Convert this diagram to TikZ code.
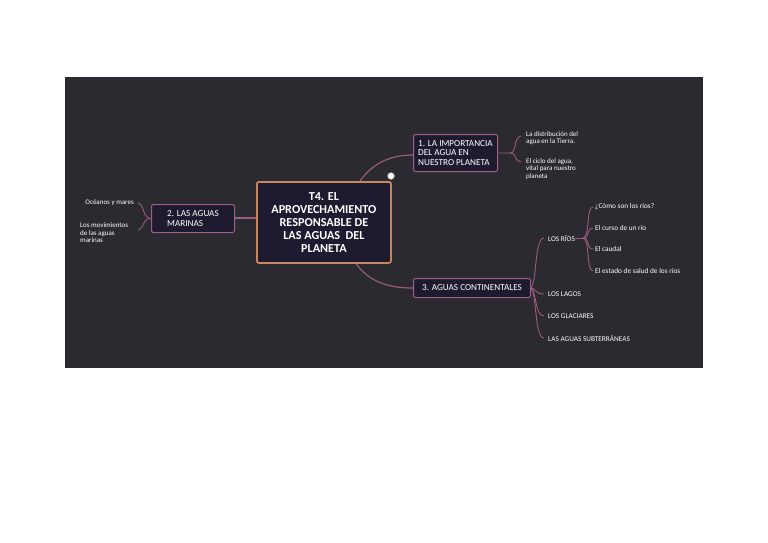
\documentclass[tikz,border=0pt]{standalone}
\usepackage{fontspec}
\setmainfont{Carlito}
\begin{document}
\begin{tikzpicture}[x=1pt,y=-1pt,
  con/.style={draw=conc,line width=1.2pt},
  sub/.style={draw=subb,fill=boxf,line width=1pt,rounded corners=1.5pt,text=white,font=\fontsize{9.2}{9.5}\selectfont,align=left,inner sep=3.5pt,anchor=north west},
  leaf/.style={text=white,font=\fontsize{7}{7.5}\selectfont,align=left,inner sep=0pt,anchor=west},
  leafb/.style={text=white,font=\fontsize{7.3}{8}\selectfont,inner sep=0pt,anchor=west}]
\definecolor{bg}{HTML}{2B2A30}
\definecolor{boxf}{HTML}{1E1A30}
\definecolor{subb}{HTML}{A0607F}
\definecolor{conc}{HTML}{9C5A7C}
\definecolor{cen}{HTML}{C8875A}
\useasboundingbox (0,0) rectangle (768,543);
\fill[white] (0,0) rectangle (768,543);
\fill[bg] (65,77) rectangle (703,368);
% connectors
\coordinate (c1) at (360,181);
\coordinate (c3) at (355,262);
\draw[con] (c1) .. controls (375,160) and (395,155) .. (413,155);
\draw[con] (c3) .. controls (370,285) and (395,288) .. (413,288);
\draw[con] (234,218) -- (256,218);
% central
\node[draw=cen,fill=boxf,line width=1.8pt,rounded corners=2pt,minimum width=134pt,minimum height=81pt,anchor=north west,text=white,align=center,font=\bfseries\fontsize{12.2}{13}\selectfont] (ctr) at (256,181) {T4. EL\\APROVECHAMIENTO\\RESPONSABLE DE\\LAS AGUAS\ \ DEL\\PLANETA};
\draw[fill=white,draw=gray] (391,176) circle (3.5);
\node[sub,minimum width=84pt,minimum height=37pt] (b1) at (413,134) {1. LA IMPORTANCIA\\DEL AGUA EN\\NUESTRO PLANETA};
\node[sub,minimum width=83pt,minimum height=28pt] (b2) at (151,204) {2. LAS AGUAS\\MARINAS};
\node[sub,minimum width=117pt,minimum height=19pt] (b3) at (413,278) {3. AGUAS CONTINENTALES};
% box1 leaves
\node[leaf] (l11) at (526,138) {La distribución del\\agua en la Tierra.};
\node[leaf] (l12) at (526,169) {El ciclo del agua,\\vital para nuestro\\planeta};
\draw[con,line width=0.9pt] (b1.east) -- (510,153) .. controls (517,153) and (513,138) .. (521,136);
\draw[con,line width=0.9pt] (510,153) .. controls (517,153) and (513,160) .. (521,162);
% box2 leaves
\node[leaf,anchor=east] (l21) at (134,203) {Océanos y mares};
\node[leaf] (l22) at (80,233) {Los movimientos\\de las aguas\\marinas};
\draw[con,line width=0.9pt] (b2.west) .. controls (142,218) and (145,205) .. (138,203);
\draw[con,line width=0.9pt] (b2.west) .. controls (142,218) and (145,228) .. (138,230);
% box3 leaves
\node[leafb] (r1) at (548,238) {LOS RÍOS};
\node[leafb] (r2) at (548,294) {LOS LAGOS};
\node[leafb] (r3) at (548,316) {LOS GLACIARES};
\node[leafb] (r4) at (548,338) {LAS AGUAS SUBTERRÁNEAS};
\draw[con,line width=0.9pt] (b3.east) -- (530,288);
\foreach \y in {238,294,316,338}{
  \draw[con,line width=0.9pt] (530,288) .. controls (537,288) and (534,\y) .. (544,\y);}
% rios leaves
\node[leafb] (s1) at (595,207) {¿Cómo son los ríos?};
\node[leafb] (s2) at (595,228) {El curso de un río};
\node[leafb] (s3) at (595,249) {El caudal};
\node[leafb] (s4) at (595,271) {El estado de salud de los ríos};
\draw[con,line width=0.9pt] (r1.east) -- (583,238);
\foreach \y in {207,228,249,271}{
  \draw[con,line width=0.9pt] (583,238) .. controls (590,238) and (586,\y) .. (593,\y);}
\end{tikzpicture}
\end{document}
